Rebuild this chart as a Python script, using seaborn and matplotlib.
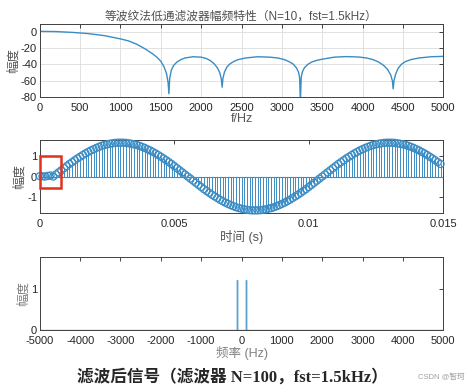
import numpy as np
import pandas as pd
import matplotlib
matplotlib.use("Agg")
import matplotlib.pyplot as plt
from matplotlib.patches import Rectangle
import seaborn as sns

# filter response (N=10, fst=1.5kHz)
freq_hz = [0, 200, 400, 600, 800, 1000, 1100, 1200, 1300, 1400, 1450, 1500, 1540, 1570, 1590,
           1600, 1610, 1630, 1660, 1700, 1750, 1800, 1900, 2000, 2060, 2110, 2160, 2200, 2230,
           2250, 2260, 2270, 2290, 2320, 2360, 2410, 2460, 2550, 2700, 2850, 2950, 3030, 3090,
           3140, 3180, 3205, 3220, 3230, 3240, 3255, 3280, 3320, 3370, 3430, 3500, 3650, 3800,
           3950, 4050, 4130, 4200, 4260, 4310, 4350, 4370, 4380, 4390, 4410, 4440, 4480, 4530,
           4600, 4700, 4850, 5000]
mag_db = [0.8, 0.5, -0.5, -2, -4.5, -8.5, -11, -15, -20.5, -27, -31, -36, -43, -51, -62,
          -76, -57, -47, -41, -37, -34, -32, -30.5, -31, -32.5, -35, -39, -44, -50,
          -58, -68, -57, -49, -43, -39, -36, -34, -32, -30.5, -31, -32, -34, -36.5,
          -39.5, -44, -49, -56, -85, -56, -49, -44, -40, -37, -35, -33.5, -31, -30.3,
          -30.8, -32, -34, -37, -41, -46, -53, -60, -70, -60, -52, -45, -40, -36.5,
          -34, -32, -30.5, -30]

# filtered time signal, fs = 10 kHz
fs = 10000
signal = [0.02, 0.01, 0.00, 0.03, 0.05,
          0.00, 0.10, 0.20, 0.30, 0.40, 0.50, 0.60, 0.69, 0.78, 0.87, 0.95, 1.03, 1.11, 1.18, 1.25,
          1.31, 1.37, 1.42, 1.47, 1.51, 1.54, 1.57, 1.59, 1.61, 1.62, 1.62,
          1.62, 1.61, 1.59, 1.57, 1.54, 1.51, 1.47, 1.42, 1.37, 1.31, 1.25, 1.18, 1.11, 1.03,
          0.95, 0.87, 0.78, 0.69, 0.60, 0.50, 0.40, 0.30, 0.20, 0.10, 0.00,
          -0.10, -0.20, -0.30, -0.40, -0.50, -0.60, -0.69, -0.78, -0.87, -0.95, -1.03, -1.11,
          -1.18, -1.25, -1.31, -1.37, -1.42, -1.47, -1.51, -1.54, -1.57, -1.59, -1.61, -1.62, -1.62,
          -1.62, -1.61, -1.59, -1.57, -1.54, -1.51, -1.47, -1.42, -1.37, -1.31, -1.25, -1.18,
          -1.11, -1.03, -0.95, -0.87, -0.78, -0.69, -0.60, -0.50, -0.40, -0.30, -0.20, -0.10, 0.00,
          0.10, 0.20, 0.30, 0.40, 0.50, 0.60, 0.69, 0.78, 0.87, 0.95, 1.03, 1.11, 1.18, 1.25,
          1.31, 1.37, 1.42, 1.47, 1.51, 1.54, 1.57, 1.59, 1.61, 1.62, 1.62,
          1.62, 1.61, 1.59, 1.57, 1.54, 1.51, 1.47, 1.42, 1.37, 1.31, 1.25, 1.18, 1.11, 1.03,
          0.95, 0.87, 0.78, 0.69, 0.60]

# spectrum of filtered signal
spec_f = [-5000, -100, -100, -100, 100, 100, 100, 5000]
spec_mag = [0, 0, 1.24, 0, 0, 1.24, 0, 0]

sns.set_theme(style="white")
plt.rcParams['font.family'] = ['Liberation Sans', 'Noto Sans CJK SC']
plt.rcParams['axes.unicode_minus'] = False

blue = '#3a8cc4'
txt = '#555555'

fig = plt.figure(figsize=(4.74, 3.91), dpi=100)
ax1 = fig.add_axes([0.084, 0.752, 0.851, 0.187])
ax2 = fig.add_axes([0.084, 0.455, 0.851, 0.187])
ax3 = fig.add_axes([0.084, 0.156, 0.851, 0.187])

# --- plot 1
sns.lineplot(x=freq_hz, y=mag_db, ax=ax1, color=blue, linewidth=1.0, estimator=None, sort=False)
ax1.set_xlim(0, 5000)
ax1.set_ylim(-80, 10)
ax1.set_xticks(range(0, 5001, 500))
ax1.set_yticks([0, -20, -40, -60, -80])
ax1.grid(True, color='#dcdcdc', linewidth=0.6)
ax1.set_title('等波纹法低通滤波器幅频特性（N=10，fst=1.5kHz）', fontsize=8.5, color='#505050', pad=3)
ax1.set_xlabel('f/Hz', fontsize=9, color=txt, labelpad=0)
ax1.set_ylabel('幅度', fontsize=9, color=txt, labelpad=1)

# --- plot 2 (stem)
t = np.arange(len(signal)) / fs
ax2.vlines(t, 0, signal, color=blue, linewidth=0.7)
ax2.axhline(0, color=blue, linewidth=0.8)
sns.scatterplot(x=t, y=signal, ax=ax2, marker='o', s=26, facecolor='none',
                edgecolor=blue, linewidth=0.9, zorder=3, clip_on=False)
ax2.set_xlim(0, 0.015)
ax2.set_ylim(-1.75, 1.75)
ax2.set_xticks([0, 0.005, 0.01, 0.015])
ax2.set_xticklabels(['0', '0.005', '0.01', '0.015'])
ax2.set_yticks([-1, 0, 1])
ax2.set_xlabel('时间 (s)', fontsize=9, color=txt, labelpad=1)
ax2.set_ylabel('幅度', fontsize=9, color=txt, labelpad=1)
ax2.add_patch(Rectangle((0, -0.55), 0.00078, 1.52, fill=False, edgecolor='#e0301e',
                        linewidth=1.8, zorder=5, clip_on=False))

# --- plot 3
sns.lineplot(x=spec_f, y=spec_mag, ax=ax3, color='#5aa0d0', linewidth=1.0, estimator=None, sort=False)
ax3.set_xlim(-5000, 5000)
ax3.set_ylim(0, 1.8)
ax3.set_xticks(range(-5000, 5001, 1000))
ax3.set_yticks([0, 1])
ax3.set_xlabel('频率 (Hz)', fontsize=9, color='#808080', labelpad=0)
ax3.set_ylabel('幅度', fontsize=9, color='#808080', labelpad=1)

for ax in (ax1, ax2, ax3):
    ax.tick_params(direction='in', top=True, right=True, length=3, width=0.6,
                   labelsize=8, colors='#262626')
    ax.tick_params(axis='x', pad=4)
    ax.tick_params(axis='y', pad=2)
    for sp in ax.spines.values():
        sp.set_color('#404040')
        sp.set_linewidth(0.7)

fig.text(0.49, 0.036, '滤波后信号（滤波器 N=100，fst=1.5kHz）', ha='center', va='center',
         fontsize=12, fontweight='bold', family=['Liberation Serif', 'Noto Sans CJK SC'])
fig.text(0.93, 0.036, 'CSDN @智珂', ha='center', va='center', fontsize=5.5, color='#a0a0a0')

fig.savefig('out.png', dpi=100, facecolor='white')
